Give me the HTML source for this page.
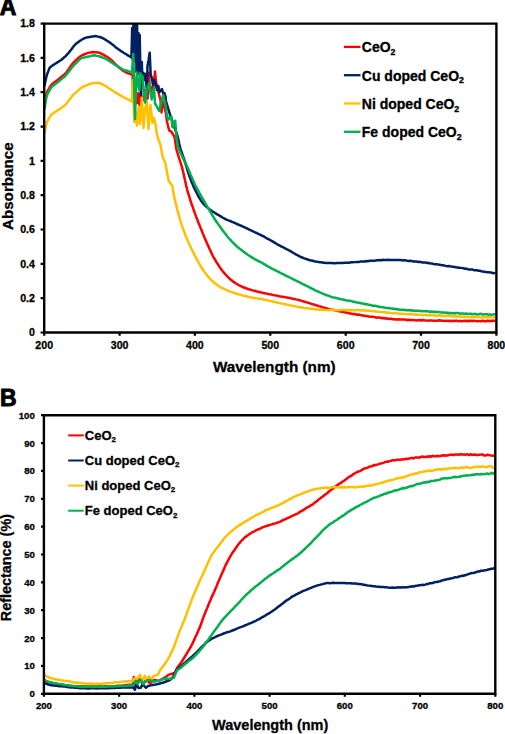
<!DOCTYPE html>
<html><head><meta charset="utf-8"><title>Absorbance and Reflectance spectra</title><style>
html,body{margin:0;padding:0;background:#fff;width:505px;height:734px;overflow:hidden}
svg{display:block;position:absolute;left:0;top:0}
text{font-family:"Liberation Sans",sans-serif;font-weight:bold;fill:#000;stroke:#000;stroke-width:0.3;paint-order:stroke}
.big{stroke-width:0.9}
.c path{fill:none;stroke-width:2.5;stroke-linejoin:round;stroke-linecap:butt}
.ax{fill:none;stroke:#000;stroke-width:2.4}
</style></head><body>
<svg width="505" height="734" viewBox="0 0 505 734">
<g class="c">
<path d="M44.40,104.82 L44.67,103.48 L44.94,101.94 L45.21,100.52 L45.49,99.09 L45.76,97.53 L46.03,96.05 L46.31,94.49 L46.64,93.08 L47.17,91.74 L47.89,90.47 L48.66,89.21 L49.43,87.84 L50.21,86.50 L51.03,85.30 L52.01,84.32 L53.16,83.24 L54.36,82.38 L55.56,81.58 L56.76,80.50 L57.95,79.70 L59.12,78.84 L60.29,77.75 L61.46,76.87 L62.63,76.00 L63.79,74.90 L64.92,74.00 L65.93,72.96 L66.83,71.75 L67.70,70.49 L68.57,69.21 L69.44,68.04 L70.31,66.80 L71.17,65.59 L72.05,64.35 L72.95,63.25 L73.95,62.13 L75.04,61.02 L76.16,60.08 L77.29,59.02 L78.41,58.06 L79.54,57.05 L80.69,56.17 L81.95,55.33 L83.31,54.73 L84.69,54.21 L86.08,53.58 L87.48,53.16 L88.92,52.63 L90.39,52.48 L91.88,52.19 L93.36,52.04 L94.84,52.13 L96.32,52.30 L97.80,52.52 L99.26,52.75 L100.65,53.28 L102.00,54.05 L103.34,54.68 L104.67,55.41 L105.96,56.22 L107.20,57.00 L108.43,57.74 L109.66,58.66 L110.85,59.62 L111.97,60.54 L113.04,61.73 L114.10,62.79 L115.16,63.83 L116.23,64.81 L117.31,65.92 L118.42,66.79 L119.54,67.83 L120.66,68.86 L121.79,69.90 L122.98,70.73 L124.27,71.40 L125.61,72.12 L126.96,72.78 L128.32,73.40 L129.73,73.88 L131.16,74.36 L132.60,74.79 L133.20,102.00 L134.20,96.00 L135.20,104.00 L136.30,94.00 L137.30,103.00 L138.30,93.00 L139.40,105.00 L140.40,94.00 L141.30,104.00 L142.50,97.00 L143.50,100.00 L144.50,90.00 L145.50,97.00 L146.60,92.00 L147.60,98.60 L148.90,72.50 L149.80,90.00 L151.00,87.00 L152.50,93.00 L154.00,82.00 L155.00,71.60 L156.00,82.00 L157.50,88.00 L159.00,94.50 L160.50,100.00 L161.50,112.50 L162.40,101.00 L163.70,104.40 L165.90,113.10 L167.00,121.80 L169.20,130.50 L171.30,131.60 L174.60,137.10 L176.30,149.00 L179.00,157.85 L179.47,159.29 L179.93,160.66 L180.40,162.08 L180.85,163.57 L181.30,165.02 L181.73,166.42 L182.14,167.89 L182.52,169.37 L182.87,170.64 L183.21,172.27 L183.54,173.62 L183.87,175.12 L184.19,176.65 L184.52,178.10 L184.84,179.46 L185.17,181.03 L185.50,182.37 L185.82,183.90 L186.15,185.45 L186.49,186.84 L186.85,188.33 L187.22,189.81 L187.62,191.27 L188.04,192.70 L188.47,193.99 L188.91,195.51 L189.36,196.95 L189.81,198.30 L190.26,199.83 L190.71,201.28 L191.18,202.75 L191.65,204.20 L192.13,205.45 L192.63,206.89 L193.12,208.40 L193.62,209.71 L194.12,211.14 L194.63,212.63 L195.14,213.96 L195.66,215.49 L196.20,216.91 L196.74,218.14 L197.29,219.64 L197.84,221.09 L198.40,222.52 L198.95,223.77 L199.51,225.15 L200.07,226.68 L200.63,228.08 L201.19,229.33 L201.76,230.77 L202.32,232.22 L202.89,233.64 L203.45,234.89 L204.02,236.38 L204.59,237.80 L205.18,239.13 L205.77,240.43 L206.37,241.78 L206.98,243.20 L207.60,244.68 L208.22,245.89 L208.84,247.25 L209.46,248.69 L210.08,250.00 L210.71,251.38 L211.34,252.72 L211.99,254.17 L212.66,255.55 L213.36,256.82 L214.09,258.06 L214.86,259.39 L215.64,260.73 L216.43,262.07 L217.23,263.35 L218.03,264.47 L218.84,265.69 L219.67,267.10 L220.53,268.35 L221.42,269.46 L222.34,270.71 L223.28,271.89 L224.24,273.00 L225.21,274.19 L226.20,275.15 L227.21,276.31 L228.26,277.37 L229.35,278.36 L230.48,279.50 L231.63,280.28 L232.81,281.33 L234.01,282.10 L235.24,283.01 L236.51,283.81 L237.80,284.51 L239.13,285.28 L240.46,285.96 L241.81,286.57 L243.18,287.27 L244.56,287.72 L245.97,288.24 L247.39,288.75 L248.82,289.19 L250.26,289.58 L251.70,290.14 L253.15,290.52 L254.60,290.78 L256.05,291.22 L257.50,291.57 L258.96,291.97 L260.42,292.28 L261.88,292.65 L263.35,293.05 L264.82,293.25 L266.29,293.60 L267.77,293.89 L269.24,294.22 L270.71,294.38 L272.18,294.81 L273.65,295.15 L275.13,295.37 L276.60,295.60 L278.07,295.96 L279.55,296.25 L281.03,296.50 L282.51,296.66 L283.99,297.07 L285.47,297.31 L286.95,297.46 L288.43,297.76 L289.90,297.93 L291.37,298.42 L292.84,298.71 L294.30,299.00 L295.76,299.37 L297.22,299.61 L298.68,300.00 L300.13,300.37 L301.57,300.85 L303.02,301.16 L304.45,301.76 L305.89,302.10 L307.33,302.53 L308.77,302.89 L310.20,303.46 L311.64,303.93 L313.08,304.32 L314.52,304.66 L315.95,305.23 L317.39,305.50 L318.83,306.11 L320.27,306.48 L321.70,306.84 L323.14,307.34 L324.58,307.80 L326.02,308.11 L327.46,308.70 L328.91,308.95 L330.37,309.45 L331.84,309.76 L333.30,309.83 L334.78,310.30 L336.25,310.48 L337.72,310.92 L339.19,311.15 L340.66,311.43 L342.13,311.90 L343.60,311.92 L345.07,312.42 L346.53,312.65 L348.01,312.84 L349.48,313.39 L350.96,313.59 L352.44,313.97 L353.92,314.10 L355.40,314.23 L356.88,314.73 L358.37,314.61 L359.85,314.82 L361.33,315.33 L362.82,315.41 L364.30,315.64 L365.79,316.09 L367.27,316.08 L368.75,316.56 L370.24,316.67 L371.73,316.74 L373.21,316.83 L374.70,317.11 L376.19,317.63 L377.68,317.53 L379.18,317.57 L380.67,317.79 L382.16,318.24 L383.66,318.03 L385.15,318.49 L386.65,318.31 L388.14,318.89 L389.63,318.81 L391.13,318.70 L392.62,319.31 L394.12,319.14 L395.62,319.46 L397.11,319.45 L398.61,319.31 L400.11,319.41 L401.61,319.52 L403.11,319.60 L404.61,319.61 L406.11,319.67 L407.61,320.25 L409.11,319.79 L410.61,320.09 L412.11,319.89 L413.62,319.99 L415.12,320.36 L416.62,320.50 L418.12,320.23 L419.62,319.96 L421.12,320.61 L422.62,320.03 L424.13,320.26 L425.63,320.38 L427.13,320.64 L428.63,320.61 L430.13,320.49 L431.63,320.38 L433.14,320.69 L434.64,320.75 L436.14,320.78 L437.64,320.72 L439.14,320.33 L440.64,320.51 L442.14,320.69 L443.64,320.75 L445.14,321.03 L446.65,320.65 L448.15,321.00 L449.65,320.83 L451.15,321.16 L452.65,320.75 L454.15,320.97 L455.65,320.70 L457.16,320.78 L458.66,321.33 L460.16,320.86 L461.66,321.31 L463.16,321.02 L464.66,320.64 L466.17,321.23 L467.67,320.64 L469.17,321.26 L470.67,320.60 L472.17,321.14 L473.67,320.72 L475.18,320.87 L476.68,321.38 L478.18,320.99 L479.68,321.13 L481.18,321.20 L482.69,320.67 L484.19,321.29 L485.69,321.36 L487.19,320.70 L488.69,321.04 L490.19,320.81 L491.70,321.21 L493.20,320.58 L494.70,321.01 L495.20,321.26" stroke="#FF0000"/>
<path d="M44.40,86.15 L44.71,84.55 L45.02,83.22 L45.33,81.63 L45.64,80.27 L45.95,78.74 L46.27,77.20 L46.61,75.85 L47.05,74.43 L47.58,73.00 L48.13,71.65 L48.68,70.11 L49.25,68.73 L49.99,67.46 L51.04,66.54 L52.26,65.66 L53.52,64.82 L54.78,64.03 L56.06,63.19 L57.34,62.34 L58.62,61.64 L59.89,60.80 L61.11,59.97 L62.28,59.12 L63.43,58.00 L64.57,57.10 L65.66,56.07 L66.68,54.90 L67.67,53.80 L68.66,52.77 L69.63,51.50 L70.58,50.40 L71.49,49.23 L72.39,47.93 L73.29,46.85 L74.22,45.59 L75.23,44.48 L76.37,43.56 L77.57,42.59 L78.78,41.75 L79.99,40.77 L81.23,40.06 L82.54,39.24 L83.87,38.49 L85.23,37.90 L86.64,37.52 L88.11,37.21 L89.59,36.90 L91.08,36.65 L92.57,36.44 L94.06,36.37 L95.55,36.09 L97.02,36.37 L98.48,36.70 L99.92,36.98 L101.33,37.52 L102.69,38.19 L104.04,38.91 L105.36,39.65 L106.63,40.47 L107.86,41.19 L109.10,42.03 L110.32,42.96 L111.53,43.87 L112.72,44.82 L113.90,45.64 L115.08,46.68 L116.26,47.67 L117.47,48.57 L118.69,49.45 L119.92,50.32 L121.15,51.19 L122.39,51.86 L123.65,52.85 L124.94,53.50 L126.22,54.29 L127.51,55.09 L128.81,55.97 L130.10,56.66 L131.40,57.37 L132.20,28.00 L132.80,60.00 L133.40,25.00 L134.10,50.00 L134.70,25.00 L135.30,62.00 L135.90,26.00 L136.50,72.00 L137.10,25.00 L137.70,74.00 L138.40,33.00 L139.10,74.00 L139.70,35.00 L140.40,72.00 L141.10,95.00 L141.80,62.00 L142.60,85.00 L143.50,73.00 L144.50,80.00 L145.50,74.00 L146.80,89.60 L147.50,66.00 L148.60,60.00 L149.70,52.70 L150.70,75.00 L151.70,77.40 L153.00,85.00 L154.30,80.00 L155.80,84.70 L157.00,90.00 L158.30,86.00 L159.50,92.00 L160.70,90.40 L162.00,89.00 L163.30,94.00 L164.50,93.00 L165.60,97.00 L165.90,101.10 L170.30,115.27 L170.79,116.80 L171.28,118.20 L171.77,119.48 L172.26,120.93 L172.75,122.37 L173.25,123.76 L173.74,125.24 L174.23,126.59 L174.73,128.08 L175.22,129.57 L175.72,130.97 L176.21,132.24 L176.69,133.68 L177.16,135.15 L177.59,136.63 L177.98,138.02 L178.34,139.45 L178.66,140.93 L178.98,142.37 L179.29,143.97 L179.61,145.40 L179.97,146.80 L180.36,148.31 L180.79,149.70 L181.25,151.13 L181.74,152.52 L182.24,153.96 L182.74,155.47 L183.24,156.85 L183.73,158.27 L184.21,159.55 L184.68,161.06 L185.13,162.46 L185.57,163.84 L186.01,165.34 L186.44,166.71 L186.87,168.18 L187.30,169.73 L187.74,171.14 L188.19,172.58 L188.65,173.88 L189.14,175.32 L189.64,176.70 L190.17,178.12 L190.71,179.53 L191.25,181.10 L191.81,182.48 L192.37,183.73 L192.96,185.12 L193.56,186.63 L194.19,187.92 L194.84,189.23 L195.51,190.59 L196.18,191.90 L196.86,193.30 L197.56,194.66 L198.27,195.93 L199.00,197.30 L199.76,198.46 L200.54,199.83 L201.35,201.16 L202.22,202.20 L203.15,203.43 L204.15,204.55 L205.21,205.55 L206.30,206.70 L207.41,207.60 L208.56,208.57 L209.73,209.58 L210.93,210.29 L212.17,211.30 L213.43,211.96 L214.71,212.79 L215.99,213.59 L217.28,214.36 L218.57,215.05 L219.86,215.87 L221.15,216.64 L222.45,217.51 L223.76,218.23 L225.08,218.86 L226.43,219.58 L227.80,220.18 L229.17,220.68 L230.56,221.21 L231.95,221.88 L233.33,222.40 L234.72,222.91 L236.10,223.69 L237.49,224.27 L238.87,224.77 L240.25,225.38 L241.62,225.99 L242.99,226.66 L244.35,227.21 L245.70,227.88 L247.05,228.47 L248.39,229.14 L249.74,229.86 L251.09,230.45 L252.45,231.05 L253.81,231.74 L255.18,232.44 L256.55,232.96 L257.92,233.70 L259.27,234.30 L260.62,234.95 L261.96,235.68 L263.28,236.22 L264.61,236.95 L265.92,237.82 L267.24,238.54 L268.55,239.11 L269.86,239.98 L271.16,240.58 L272.46,241.36 L273.75,242.12 L275.04,242.92 L276.33,243.70 L277.63,244.56 L278.94,245.20 L280.25,245.86 L281.58,246.59 L282.91,247.23 L284.25,247.91 L285.60,248.66 L286.93,249.36 L288.27,249.99 L289.59,250.73 L290.90,251.41 L292.19,252.27 L293.49,252.98 L294.78,253.70 L296.07,254.53 L297.37,255.21 L298.69,255.94 L300.03,256.56 L301.40,257.29 L302.79,257.74 L304.19,258.40 L305.61,258.78 L307.03,259.21 L308.46,259.77 L309.90,260.19 L311.35,260.59 L312.81,260.76 L314.28,261.22 L315.75,261.53 L317.23,261.67 L318.71,261.96 L320.19,262.22 L321.68,262.33 L323.17,262.66 L324.66,262.77 L326.15,262.95 L327.65,262.96 L329.14,263.08 L330.64,263.05 L332.14,263.12 L333.64,263.25 L335.14,263.31 L336.64,263.08 L338.15,263.03 L339.65,262.99 L341.14,263.04 L342.64,263.06 L344.14,262.82 L345.64,262.80 L347.14,262.72 L348.64,262.71 L350.14,262.41 L351.63,262.25 L353.13,262.29 L354.63,262.13 L356.12,262.00 L357.62,262.04 L359.12,261.90 L360.62,261.59 L362.11,261.62 L363.61,261.58 L365.10,261.49 L366.60,261.05 L368.09,261.18 L369.59,260.77 L371.08,260.85 L372.58,260.68 L374.07,260.68 L375.57,260.45 L377.07,260.15 L378.57,260.28 L380.06,260.05 L381.56,260.19 L383.06,259.84 L384.56,259.90 L386.06,260.00 L387.57,259.78 L389.07,259.96 L390.57,259.98 L392.07,260.01 L393.57,260.09 L395.07,259.94 L396.57,259.88 L398.07,259.99 L399.57,260.11 L401.07,260.06 L402.57,260.41 L404.06,260.25 L405.56,260.36 L407.06,260.86 L408.55,260.94 L410.04,260.86 L411.54,261.04 L413.03,261.40 L414.53,261.46 L416.02,261.46 L417.51,261.69 L419.01,262.03 L420.50,261.80 L421.99,262.41 L423.48,262.40 L424.97,262.42 L426.45,262.92 L427.94,262.82 L429.42,263.21 L430.90,263.52 L432.38,263.61 L433.87,264.15 L435.35,264.30 L436.83,264.27 L438.32,264.49 L439.80,264.66 L441.29,265.13 L442.77,265.15 L444.26,265.55 L445.75,265.90 L447.23,266.14 L448.72,265.98 L450.20,266.30 L451.69,266.56 L453.17,266.77 L454.66,267.01 L456.14,267.25 L457.63,267.63 L459.11,267.62 L460.60,267.87 L462.08,268.12 L463.56,268.22 L465.05,268.70 L466.53,268.80 L468.02,269.30 L469.50,269.48 L470.99,269.38 L472.47,269.61 L473.96,270.13 L475.44,270.23 L476.92,270.15 L478.41,270.72 L479.89,270.81 L481.38,271.27 L482.86,271.48 L484.34,271.82 L485.82,271.93 L487.30,272.31 L488.79,272.19 L490.27,272.47 L491.75,272.55 L493.23,273.28 L494.71,273.11 L495.20,273.43" stroke="#002060"/>
<path d="M44.40,133.20 L44.71,131.79 L45.02,130.23 L45.32,128.71 L45.63,127.28 L45.94,125.74 L46.25,124.32 L46.62,122.93 L47.17,121.44 L47.89,120.31 L48.65,118.92 L49.42,117.58 L50.20,116.40 L51.02,115.02 L52.03,113.99 L53.24,113.26 L54.52,112.32 L55.80,111.62 L57.07,110.69 L58.33,109.95 L59.56,109.12 L60.79,108.16 L62.03,107.32 L63.26,106.49 L64.47,105.61 L65.59,104.54 L66.57,103.47 L67.49,102.40 L68.41,101.06 L69.32,99.96 L70.24,98.65 L71.15,97.50 L72.07,96.32 L73.02,95.17 L74.05,94.11 L75.16,93.11 L76.29,92.09 L77.42,91.12 L78.54,90.13 L79.67,89.03 L80.84,88.19 L82.10,87.34 L83.45,86.63 L84.82,85.98 L86.19,85.48 L87.57,84.86 L88.99,84.24 L90.43,83.91 L91.87,83.38 L93.33,83.09 L94.81,82.95 L96.31,82.93 L97.81,82.85 L99.28,82.97 L100.69,83.51 L102.04,84.19 L103.39,84.86 L104.72,85.47 L106.01,86.28 L107.26,87.15 L108.49,88.05 L109.73,88.83 L110.97,89.75 L112.25,90.45 L113.53,91.21 L114.82,92.00 L116.11,92.87 L117.40,93.68 L118.69,94.37 L119.98,95.20 L121.27,95.86 L122.57,96.69 L123.90,97.38 L125.25,98.06 L126.59,98.68 L127.94,99.44 L129.29,100.12 L130.65,100.77 L132.00,101.45 L132.80,80.00 L133.50,100.00 L134.30,122.00 L135.50,112.00 L137.00,125.60 L138.60,106.80 L140.00,124.00 L141.90,97.80 L143.50,128.00 L145.00,110.00 L146.80,101.00 L148.50,128.90 L150.50,105.20 L152.50,123.00 L154.00,118.00 L155.80,125.60 L156.60,132.70 L158.30,139.20 L160.40,144.70 L162.60,156.70 L165.40,163.20 L167.00,171.90 L168.70,181.10 L172.40,186.00 L174.20,197.10 L176.60,206.89 L176.97,208.43 L177.34,209.82 L177.72,211.34 L178.09,212.70 L178.47,214.21 L178.87,215.56 L179.28,216.98 L179.70,218.59 L180.14,219.92 L180.58,221.28 L181.04,222.83 L181.50,224.32 L181.97,225.71 L182.46,227.18 L182.96,228.59 L183.46,229.90 L183.98,231.27 L184.50,232.64 L185.03,234.09 L185.58,235.56 L186.14,237.01 L186.72,238.21 L187.32,239.75 L187.92,241.11 L188.54,242.47 L189.15,243.73 L189.77,245.08 L190.40,246.58 L191.04,247.92 L191.69,249.22 L192.35,250.56 L193.02,251.84 L193.70,253.38 L194.37,254.69 L195.06,256.05 L195.75,257.35 L196.45,258.61 L197.16,260.01 L197.88,261.20 L198.60,262.61 L199.33,263.84 L200.07,265.17 L200.85,266.55 L201.65,267.73 L202.48,269.07 L203.33,270.25 L204.19,271.42 L205.06,272.63 L205.95,273.79 L206.85,275.10 L207.78,276.33 L208.75,277.34 L209.76,278.49 L210.82,279.65 L211.91,280.56 L213.01,281.68 L214.13,282.66 L215.26,283.57 L216.42,284.54 L217.63,285.31 L218.87,286.21 L220.16,287.01 L221.47,287.62 L222.80,288.27 L224.15,288.94 L225.50,289.62 L226.86,290.25 L228.24,290.94 L229.64,291.40 L231.06,291.91 L232.48,292.33 L233.92,292.78 L235.35,293.27 L236.79,293.75 L238.23,294.06 L239.67,294.53 L241.12,294.97 L242.57,295.42 L244.02,295.65 L245.48,296.04 L246.94,296.44 L248.40,296.71 L249.86,297.14 L251.33,297.52 L252.80,297.65 L254.28,297.94 L255.76,298.08 L257.25,298.38 L258.73,298.69 L260.21,298.85 L261.69,299.05 L263.17,299.35 L264.64,299.72 L266.11,300.07 L267.57,300.31 L269.04,300.64 L270.50,301.04 L271.97,301.23 L273.43,301.75 L274.89,302.00 L276.35,302.32 L277.81,302.76 L279.28,302.99 L280.74,303.29 L282.21,303.62 L283.68,304.01 L285.15,304.20 L286.62,304.57 L288.10,304.82 L289.57,305.18 L291.04,305.40 L292.51,305.82 L293.99,306.15 L295.46,306.32 L296.93,306.61 L298.41,306.94 L299.89,307.23 L301.37,307.33 L302.85,307.68 L304.34,307.93 L305.83,308.14 L307.31,308.27 L308.80,308.56 L310.29,308.69 L311.78,308.80 L313.27,309.00 L314.76,309.25 L316.25,309.41 L317.75,309.62 L319.24,309.73 L320.74,309.71 L322.24,309.83 L323.74,309.99 L325.24,309.96 L326.74,309.94 L328.24,310.16 L329.74,310.06 L331.24,310.03 L332.75,310.10 L334.25,310.04 L335.75,310.03 L337.25,310.15 L338.75,310.19 L340.26,310.07 L341.76,310.00 L343.26,310.09 L344.76,310.07 L346.26,310.08 L347.77,310.02 L349.27,310.20 L350.77,310.03 L352.27,309.99 L353.77,310.23 L355.27,310.26 L356.78,310.11 L358.28,310.10 L359.78,310.27 L361.28,310.42 L362.78,310.22 L364.28,310.39 L365.78,310.37 L367.28,310.66 L368.77,310.69 L370.27,310.80 L371.76,311.05 L373.25,311.16 L374.75,311.18 L376.24,311.41 L377.74,311.78 L379.23,311.87 L380.73,311.90 L382.22,312.12 L383.71,312.05 L385.21,312.32 L386.70,312.67 L388.20,312.52 L389.69,313.01 L391.19,313.10 L392.68,313.17 L394.18,313.16 L395.68,313.15 L397.17,313.35 L398.67,313.65 L400.17,313.60 L401.67,313.87 L403.17,313.70 L404.67,314.09 L406.16,314.22 L407.66,314.27 L409.16,314.13 L410.66,314.26 L412.15,314.29 L413.65,314.38 L415.15,314.80 L416.65,314.75 L418.15,314.95 L419.65,314.76 L421.15,314.84 L422.65,315.17 L424.16,315.28 L425.66,314.86 L427.16,315.26 L428.66,315.20 L430.16,314.95 L431.66,315.33 L433.16,315.20 L434.66,315.29 L436.16,315.69 L437.66,315.64 L439.16,315.32 L440.66,315.75 L442.16,315.45 L443.66,316.02 L445.16,315.93 L446.66,316.02 L448.16,315.74 L449.66,315.85 L451.17,316.18 L452.67,316.17 L454.17,316.50 L455.67,316.25 L457.17,316.38 L458.67,316.28 L460.17,316.58 L461.67,316.92 L463.17,316.56 L464.67,316.95 L466.17,316.62 L467.67,317.13 L469.17,316.94 L470.67,316.74 L472.17,317.20 L473.68,317.31 L475.18,316.86 L476.68,316.88 L478.18,317.00 L479.68,317.21 L481.18,317.53 L482.68,317.50 L484.19,317.16 L485.69,316.98 L487.19,317.36 L488.69,317.35 L490.19,317.12 L491.70,317.37 L493.20,317.63 L494.70,317.05 L495.20,317.17" stroke="#FFC000"/>
<path d="M44.40,109.67 L44.64,108.05 L44.88,106.56 L45.13,105.08 L45.37,103.72 L45.61,102.11 L45.85,100.62 L46.09,99.24 L46.34,97.79 L46.64,96.32 L47.12,94.85 L47.78,93.61 L48.50,92.14 L49.22,90.88 L49.94,89.54 L50.68,88.27 L51.53,87.00 L52.60,85.97 L53.78,85.22 L54.99,84.18 L56.19,83.32 L57.39,82.50 L58.57,81.45 L59.74,80.52 L60.91,79.62 L62.08,78.57 L63.25,77.62 L64.41,76.79 L65.50,75.71 L66.48,74.53 L67.41,73.39 L68.33,72.28 L69.25,71.10 L70.17,69.86 L71.08,68.61 L72.00,67.55 L72.94,66.25 L73.94,65.24 L74.99,64.04 L76.05,63.14 L77.11,62.04 L78.18,60.92 L79.24,59.85 L80.33,58.86 L81.54,58.10 L82.93,57.66 L84.40,57.42 L85.88,57.06 L87.36,56.86 L88.82,56.59 L90.27,56.12 L91.71,55.81 L93.16,55.40 L94.62,55.32 L96.09,55.66 L97.56,55.87 L99.02,56.23 L100.45,56.69 L101.85,57.27 L103.25,57.69 L104.64,58.40 L105.98,59.00 L107.29,59.70 L108.58,60.46 L109.87,61.37 L111.14,62.16 L112.38,62.92 L113.61,63.75 L114.84,64.74 L116.07,65.41 L117.33,66.24 L118.60,67.12 L119.89,67.92 L121.18,68.57 L122.50,69.31 L123.89,69.84 L125.32,70.32 L126.76,70.73 L128.20,71.15 L129.63,71.62 L131.05,72.15 L132.00,72.43 L133.30,54.00 L134.00,80.00 L135.00,119.00 L136.00,85.00 L137.00,72.50 L138.00,85.00 L139.50,90.40 L140.30,73.30 L141.50,78.00 L142.50,76.00 L143.50,88.00 L145.20,102.70 L146.50,92.00 L147.50,88.00 L149.30,83.10 L150.50,92.00 L151.70,99.40 L153.00,92.00 L154.00,88.00 L155.00,103.30 L157.00,107.00 L159.20,111.00 L161.50,101.10 L163.20,95.00 L165.90,106.50 L166.40,112.50 L168.10,119.60 L171.30,116.30 L172.40,127.20 L175.20,120.70 L176.30,136.00 L177.90,146.95 L178.50,148.25 L179.11,149.57 L179.71,151.05 L180.32,152.45 L180.93,153.74 L181.54,155.03 L182.17,156.52 L182.82,157.90 L183.48,159.27 L184.14,160.58 L184.82,161.90 L185.49,163.19 L186.15,164.52 L186.81,165.83 L187.44,167.34 L188.06,168.66 L188.65,169.98 L189.24,171.33 L189.81,172.75 L190.39,174.22 L190.98,175.50 L191.58,176.84 L192.18,178.28 L192.79,179.64 L193.40,181.09 L194.02,182.42 L194.64,183.77 L195.29,185.22 L195.96,186.54 L196.65,187.73 L197.36,189.07 L198.08,190.42 L198.81,191.66 L199.54,193.11 L200.28,194.42 L201.01,195.63 L201.75,197.06 L202.49,198.30 L203.23,199.54 L203.97,200.92 L204.72,202.24 L205.46,203.55 L206.21,204.90 L206.96,206.19 L207.71,207.39 L208.47,208.69 L209.22,209.90 L209.98,211.27 L210.74,212.52 L211.50,213.80 L212.27,215.23 L213.04,216.36 L213.82,217.66 L214.63,219.03 L215.46,220.26 L216.30,221.47 L217.16,222.78 L218.03,223.89 L218.90,225.10 L219.78,226.38 L220.66,227.52 L221.54,228.84 L222.44,230.10 L223.34,231.27 L224.25,232.48 L225.17,233.51 L226.09,234.76 L227.01,236.04 L227.95,237.20 L228.91,238.30 L229.89,239.44 L230.90,240.47 L231.93,241.55 L232.99,242.58 L234.05,243.81 L235.13,244.72 L236.22,245.89 L237.35,246.68 L238.49,247.80 L239.66,248.68 L240.85,249.50 L242.04,250.54 L243.24,251.44 L244.45,252.33 L245.66,253.21 L246.89,254.08 L248.12,254.95 L249.37,255.71 L250.62,256.66 L251.87,257.38 L253.14,258.13 L254.43,259.03 L255.74,259.60 L257.07,260.31 L258.42,261.03 L259.75,261.72 L261.07,262.32 L262.38,263.00 L263.68,263.86 L264.97,264.63 L266.25,265.43 L267.55,266.10 L268.84,266.96 L270.16,267.68 L271.48,268.40 L272.81,269.07 L274.15,269.73 L275.49,270.38 L276.83,271.11 L278.18,271.65 L279.52,272.40 L280.86,273.10 L282.20,273.77 L283.54,274.32 L284.88,275.03 L286.22,275.83 L287.56,276.47 L288.91,277.02 L290.25,277.76 L291.59,278.49 L292.94,279.17 L294.28,279.77 L295.62,280.35 L296.97,281.04 L298.31,281.67 L299.66,282.37 L301.00,283.02 L302.34,283.83 L303.68,284.50 L305.02,285.12 L306.36,285.90 L307.70,286.41 L309.04,287.09 L310.38,287.86 L311.73,288.50 L313.07,289.07 L314.42,289.93 L315.76,290.52 L317.11,291.17 L318.47,291.74 L319.84,292.43 L321.21,292.88 L322.60,293.52 L323.98,294.18 L325.38,294.73 L326.78,295.25 L328.18,295.62 L329.60,296.18 L331.03,296.84 L332.47,297.24 L333.92,297.60 L335.37,297.74 L336.82,298.11 L338.28,298.51 L339.74,299.05 L341.21,299.15 L342.68,299.46 L344.15,299.76 L345.62,300.22 L347.09,300.43 L348.57,300.84 L350.04,300.84 L351.51,301.12 L352.98,301.72 L354.45,301.73 L355.92,302.27 L357.39,302.52 L358.87,302.66 L360.34,302.98 L361.81,303.47 L363.28,303.47 L364.75,304.17 L366.22,304.07 L367.69,304.41 L369.16,304.92 L370.63,304.98 L372.11,305.67 L373.58,305.70 L375.05,305.80 L376.53,306.10 L378.01,306.53 L379.49,306.93 L380.97,306.87 L382.46,307.17 L383.94,307.48 L385.43,307.73 L386.91,307.97 L388.40,307.95 L389.89,308.16 L391.38,308.61 L392.87,308.81 L394.36,308.73 L395.85,309.22 L397.34,308.95 L398.83,309.49 L400.32,309.72 L401.81,309.69 L403.30,309.93 L404.80,309.71 L406.29,310.29 L407.79,310.31 L409.28,310.35 L410.78,310.45 L412.28,310.30 L413.78,310.81 L415.27,310.71 L416.77,310.86 L418.27,310.68 L419.77,311.07 L421.26,310.93 L422.76,311.36 L424.26,310.99 L425.75,311.16 L427.25,311.32 L428.75,311.54 L430.25,311.96 L431.74,311.48 L433.24,311.96 L434.74,311.70 L436.23,312.04 L437.73,312.08 L439.23,312.08 L440.73,312.39 L442.22,312.39 L443.72,312.43 L445.22,312.77 L446.72,312.60 L448.22,313.22 L449.71,312.78 L451.21,313.42 L452.71,312.89 L454.21,313.56 L455.71,312.97 L457.21,313.00 L458.70,313.14 L460.20,313.69 L461.70,313.40 L463.20,313.50 L464.70,313.89 L466.20,313.44 L467.70,313.90 L469.20,313.83 L470.70,313.68 L472.20,314.32 L473.70,313.90 L475.20,313.87 L476.70,314.24 L478.20,314.40 L479.70,313.90 L481.20,313.85 L482.70,314.59 L484.20,314.18 L485.70,314.31 L487.20,314.29 L488.70,314.67 L490.20,314.37 L491.70,314.71 L493.20,314.55 L494.70,314.21 L495.20,314.61" stroke="#00B050"/>
</g>
<path class="ax" d="M44.2,23.6 H496.4 V332.5 H44.2 Z"/>
<path d="M40.6,332.5 H44.2 M40.6,298.2 H44.2 M40.6,263.9 H44.2 M40.6,229.5 H44.2 M40.6,195.2 H44.2 M40.6,160.9 H44.2 M40.6,126.6 H44.2 M40.6,92.2 H44.2 M40.6,57.9 H44.2 M40.6,23.6 H44.2 M44.2,332.5 V335.8 M119.6,332.5 V335.8 M194.9,332.5 V335.8 M270.3,332.5 V335.8 M345.7,332.5 V335.8 M421.0,332.5 V335.8 M496.4,332.5 V335.8" stroke="#000" stroke-width="2.2" fill="none"/>
<text x="34.9" y="336.2" font-size="10.6" text-anchor="end">0</text>
<text x="34.9" y="301.9" font-size="10.6" text-anchor="end">0.2</text>
<text x="34.9" y="267.6" font-size="10.6" text-anchor="end">0.4</text>
<text x="34.9" y="233.2" font-size="10.6" text-anchor="end">0.6</text>
<text x="34.9" y="198.9" font-size="10.6" text-anchor="end">0.8</text>
<text x="34.9" y="164.6" font-size="10.6" text-anchor="end">1</text>
<text x="34.9" y="130.3" font-size="10.6" text-anchor="end">1.2</text>
<text x="34.9" y="95.9" font-size="10.6" text-anchor="end">1.4</text>
<text x="34.9" y="61.6" font-size="10.6" text-anchor="end">1.6</text>
<text x="34.9" y="27.3" font-size="10.6" text-anchor="end">1.8</text>
<text x="44.2" y="348.6" font-size="10.6" text-anchor="middle">200</text>
<text x="119.6" y="348.6" font-size="10.6" text-anchor="middle">300</text>
<text x="194.9" y="348.6" font-size="10.6" text-anchor="middle">400</text>
<text x="270.3" y="348.6" font-size="10.6" text-anchor="middle">500</text>
<text x="345.7" y="348.6" font-size="10.6" text-anchor="middle">600</text>
<text x="421.0" y="348.6" font-size="10.6" text-anchor="middle">700</text>
<text x="496.4" y="348.6" font-size="10.6" text-anchor="middle">800</text>
<text x="274.3" y="372.2" font-size="15.3" text-anchor="middle">Wavelength (nm)</text>
<text transform="translate(13.1,186.2) rotate(-90)" font-size="15.2" text-anchor="middle">Absorbance</text>
<text class="big" x="-0.2" y="15.1" font-size="23">A</text>
<line x1="343.9" y1="46.9" x2="360.5" y2="46.9" stroke="#FF0000" stroke-width="2.3"/>
<text x="361.8" y="52.3" font-size="14">CeO<tspan font-size="8.8" dy="2.6">2</tspan></text>
<line x1="343.9" y1="75.2" x2="360.5" y2="75.2" stroke="#002060" stroke-width="2.3"/>
<text x="361.8" y="80.6" font-size="14">Cu doped CeO<tspan font-size="8.8" dy="2.6">2</tspan></text>
<line x1="343.9" y1="103.5" x2="360.5" y2="103.5" stroke="#FFC000" stroke-width="2.3"/>
<text x="361.8" y="108.9" font-size="14">Ni doped CeO<tspan font-size="8.8" dy="2.6">2</tspan></text>
<line x1="343.9" y1="131.8" x2="360.5" y2="131.8" stroke="#00B050" stroke-width="2.3"/>
<text x="361.8" y="137.2" font-size="14">Fe doped CeO<tspan font-size="8.8" dy="2.6">2</tspan></text>
<g class="c">
<path d="M44.40,680.64 L45.74,681.17 L47.11,681.72 L48.50,682.10 L49.92,682.81 L51.37,683.05 L52.84,683.34 L54.32,683.64 L55.80,683.92 L57.29,684.13 L58.78,684.35 L60.27,684.64 L61.76,684.69 L63.26,684.96 L64.76,685.23 L66.25,685.58 L67.75,685.56 L69.25,685.75 L70.76,686.01 L72.26,686.08 L73.77,686.14 L75.27,686.17 L76.78,686.23 L78.29,686.13 L79.79,686.16 L81.30,686.19 L82.81,686.26 L84.32,686.52 L85.82,686.56 L87.33,686.37 L88.84,686.71 L90.35,686.57 L91.85,686.61 L93.36,686.43 L94.87,686.74 L96.38,686.43 L97.89,686.48 L99.40,686.58 L100.90,686.58 L102.41,686.58 L103.92,686.70 L105.43,686.29 L106.93,686.49 L108.44,686.33 L109.95,686.41 L111.45,686.28 L112.96,686.26 L114.47,686.21 L115.97,686.10 L117.48,685.76 L118.98,685.82 L120.49,685.81 L121.99,685.69 L123.49,685.61 L124.99,685.26 L126.50,684.95 L128.00,685.09 L129.50,684.76 L131.00,684.76 L132.50,684.37 L133.00,684.44 L133.90,676.90 L134.90,688.30 L137.00,682.00 L140.00,679.00 L143.00,684.00 L146.00,680.00 L150.00,683.00 L154.00,680.00 L157.70,680.80 L160.30,680.10 L165.80,676.90 L169.00,674.60 L174.60,673.00 L176.90,668.25 L177.84,666.88 L178.76,665.77 L179.66,664.51 L180.53,663.58 L181.37,662.30 L182.19,660.98 L182.99,659.67 L183.79,658.58 L184.59,657.02 L185.38,655.93 L186.17,654.40 L186.95,653.33 L187.73,651.88 L188.50,650.51 L189.26,649.58 L190.01,648.03 L190.73,647.00 L191.43,645.55 L192.11,644.21 L192.76,642.86 L193.40,641.63 L194.03,639.96 L194.66,638.90 L195.29,637.27 L195.92,635.82 L196.54,634.78 L197.17,633.09 L197.79,631.87 L198.41,630.65 L199.01,629.05 L199.59,627.85 L200.15,626.42 L200.68,625.04 L201.18,623.41 L201.67,622.21 L202.15,620.85 L202.65,619.15 L203.15,618.06 L203.68,616.66 L204.23,615.01 L204.79,613.87 L205.36,612.47 L205.93,610.76 L206.51,609.62 L207.08,608.32 L207.66,606.88 L208.24,605.22 L208.82,603.94 L209.40,602.62 L209.98,601.16 L210.57,599.78 L211.16,598.29 L211.76,596.88 L212.37,595.62 L212.98,594.30 L213.60,592.99 L214.22,591.78 L214.83,590.06 L215.43,588.79 L216.02,587.61 L216.60,586.21 L217.17,584.54 L217.74,583.38 L218.32,581.75 L218.90,580.71 L219.49,579.06 L220.09,577.82 L220.69,576.39 L221.31,575.04 L221.92,573.55 L222.54,572.24 L223.14,570.83 L223.73,569.59 L224.32,568.13 L224.91,566.82 L225.51,565.42 L226.15,564.12 L226.82,562.90 L227.51,561.40 L228.23,560.08 L228.96,558.80 L229.70,557.47 L230.45,556.11 L231.21,554.75 L231.99,553.59 L232.81,552.21 L233.64,551.13 L234.49,549.99 L235.35,548.72 L236.23,547.50 L237.12,546.06 L238.03,544.80 L238.96,543.69 L239.91,542.68 L240.88,541.35 L241.87,540.22 L242.90,539.50 L243.97,538.21 L245.09,537.12 L246.27,536.38 L247.48,535.57 L248.71,534.63 L249.96,533.67 L251.23,533.02 L252.51,532.06 L253.81,531.57 L255.12,530.95 L256.46,529.92 L257.82,529.51 L259.20,529.02 L260.58,528.37 L261.97,527.61 L263.37,527.02 L264.77,526.62 L266.17,525.93 L267.58,525.75 L269.01,525.15 L270.44,524.63 L271.88,524.40 L273.33,523.78 L274.77,523.51 L276.21,523.09 L277.62,522.46 L279.02,522.21 L280.39,521.58 L281.74,520.75 L283.09,520.18 L284.43,519.46 L285.78,519.05 L287.13,518.28 L288.48,517.74 L289.84,517.05 L291.22,516.45 L292.59,515.67 L293.96,515.28 L295.32,514.44 L296.66,513.97 L297.98,513.21 L299.28,512.39 L300.57,511.49 L301.86,510.89 L303.14,510.13 L304.43,509.37 L305.71,508.33 L307.00,507.63 L308.28,506.99 L309.56,506.34 L310.84,505.28 L312.11,504.78 L313.35,503.98 L314.58,502.71 L315.78,502.11 L316.97,501.04 L318.14,499.99 L319.32,499.09 L320.49,498.22 L321.67,497.12 L322.84,496.51 L324.01,495.46 L325.19,494.47 L326.36,493.80 L327.54,492.91 L328.71,491.72 L329.89,490.71 L331.08,489.95 L332.28,488.94 L333.48,488.30 L334.69,487.09 L335.91,486.12 L337.12,485.18 L338.35,484.39 L339.57,483.47 L340.79,483.07 L342.02,482.07 L343.25,481.15 L344.48,480.50 L345.71,479.45 L346.94,478.65 L348.18,477.47 L349.42,476.70 L350.66,476.05 L351.91,475.37 L353.18,474.23 L354.47,473.57 L355.78,472.73 L357.10,472.02 L358.43,471.52 L359.78,471.08 L361.14,470.48 L362.50,469.59 L363.88,468.64 L365.26,468.23 L366.66,467.93 L368.06,467.57 L369.47,466.53 L370.89,466.52 L372.32,466.10 L373.75,465.11 L375.19,465.26 L376.63,464.62 L378.07,464.37 L379.51,463.82 L380.95,463.40 L382.39,463.13 L383.84,462.64 L385.29,462.00 L386.75,461.62 L388.21,461.74 L389.68,460.90 L391.15,460.70 L392.63,460.26 L394.11,460.19 L395.60,460.18 L397.09,459.70 L398.58,459.71 L400.07,459.70 L401.56,459.35 L403.06,459.48 L404.55,459.10 L406.04,458.76 L407.53,458.91 L409.02,458.59 L410.51,458.31 L412.00,457.88 L413.49,458.40 L414.98,457.51 L416.47,457.51 L417.96,457.50 L419.45,457.63 L420.94,456.90 L422.43,456.57 L423.92,456.96 L425.42,457.07 L426.92,456.51 L428.42,456.92 L429.91,456.21 L431.41,456.65 L432.91,455.74 L434.41,456.31 L435.91,456.42 L437.41,455.76 L438.91,456.23 L440.41,455.91 L441.91,455.55 L443.41,455.18 L444.90,455.70 L446.40,455.31 L447.90,455.38 L449.40,454.92 L450.90,454.64 L452.39,454.61 L453.89,455.07 L455.39,454.43 L456.89,454.51 L458.39,454.73 L459.88,454.32 L461.38,454.48 L462.88,454.39 L464.38,454.78 L465.88,454.40 L467.39,454.29 L468.89,455.09 L470.39,454.23 L471.89,454.78 L473.39,454.79 L474.89,454.52 L476.39,454.99 L477.89,455.04 L479.39,454.77 L480.90,454.63 L482.40,454.44 L483.90,455.36 L485.40,455.55 L486.90,454.78 L488.40,454.88 L489.90,455.31 L491.40,455.52 L492.90,455.66 L494.40,455.62" stroke="#FF0000"/>
<path d="M44.40,683.05 L45.74,683.67 L47.11,684.05 L48.51,684.66 L49.94,685.08 L51.40,685.22 L52.88,685.40 L54.38,685.62 L55.87,685.82 L57.37,685.81 L58.87,686.18 L60.36,686.32 L61.86,686.32 L63.36,686.48 L64.86,686.61 L66.36,686.83 L67.85,687.15 L69.35,687.13 L70.85,687.44 L72.35,687.36 L73.85,687.53 L75.34,687.75 L76.84,687.78 L78.34,687.89 L79.84,688.16 L81.35,688.14 L82.85,688.31 L84.35,688.22 L85.86,688.28 L87.36,688.48 L88.87,688.41 L90.37,688.28 L91.88,688.37 L93.38,688.28 L94.89,688.27 L96.39,688.42 L97.90,688.28 L99.41,688.31 L100.91,688.26 L102.42,688.25 L103.92,688.31 L105.42,688.18 L106.93,688.17 L108.43,688.14 L109.94,687.99 L111.44,687.90 L112.94,687.83 L114.45,688.00 L115.95,687.75 L117.45,687.71 L118.96,687.73 L120.46,687.68 L121.97,687.59 L123.47,687.59 L124.97,687.43 L126.48,687.28 L127.98,687.38 L129.49,687.31 L130.99,687.41 L132.50,687.22 L133.00,687.35 L134.90,689.80 L136.50,684.00 L138.50,688.00 L140.90,687.80 L142.50,684.00 L145.80,687.80 L148.00,686.00 L152.80,684.80 L154.00,684.90 L158.00,684.00 L163.50,682.50 L169.80,680.10 L173.00,677.00 L176.90,669.65 L178.04,668.79 L179.18,667.80 L180.31,666.74 L181.45,665.97 L182.58,664.99 L183.70,663.82 L184.82,662.96 L185.94,662.01 L187.06,660.91 L188.18,659.85 L189.31,658.95 L190.44,657.88 L191.56,656.94 L192.68,655.97 L193.79,654.85 L194.89,653.93 L195.97,652.85 L197.04,651.82 L198.11,650.67 L199.16,649.74 L200.21,648.49 L201.25,647.50 L202.28,646.43 L203.32,645.19 L204.38,644.37 L205.47,643.28 L206.60,642.16 L207.77,641.46 L208.98,640.54 L210.22,639.77 L211.50,638.92 L212.81,638.15 L214.14,637.56 L215.51,636.81 L216.88,636.25 L218.27,635.65 L219.66,635.08 L221.05,634.70 L222.45,634.03 L223.86,633.50 L225.27,632.95 L226.68,632.44 L228.11,631.93 L229.52,631.66 L230.94,631.09 L232.34,630.49 L233.74,629.98 L235.13,629.49 L236.52,628.79 L237.91,628.19 L239.30,627.68 L240.69,627.10 L242.08,626.64 L243.47,626.10 L244.86,625.53 L246.26,624.92 L247.65,624.32 L249.05,623.65 L250.43,623.31 L251.81,622.69 L253.18,621.98 L254.53,621.40 L255.88,620.79 L257.22,619.94 L258.56,619.33 L259.89,618.75 L261.20,617.80 L262.50,617.03 L263.79,616.51 L265.08,615.72 L266.37,614.69 L267.65,614.07 L268.93,613.32 L270.21,612.56 L271.49,611.73 L272.74,610.90 L273.98,610.06 L275.20,609.19 L276.40,608.14 L277.60,607.26 L278.79,606.37 L279.97,605.64 L281.15,604.57 L282.33,603.69 L283.52,602.88 L284.72,601.73 L285.94,600.87 L287.16,600.03 L288.40,599.38 L289.65,598.48 L290.91,597.49 L292.18,596.67 L293.46,595.92 L294.75,595.38 L296.05,594.49 L297.37,593.91 L298.70,593.21 L300.05,592.58 L301.40,591.81 L302.77,591.11 L304.14,590.58 L305.53,590.12 L306.92,589.57 L308.31,588.84 L309.71,588.31 L311.10,587.86 L312.50,587.19 L313.91,586.61 L315.32,586.12 L316.74,585.70 L318.17,585.15 L319.60,584.88 L321.04,584.43 L322.48,584.14 L323.94,583.74 L325.41,583.38 L326.89,583.10 L328.37,583.00 L329.87,583.15 L331.37,583.01 L332.87,582.78 L334.37,582.90 L335.87,582.98 L337.37,582.99 L338.87,583.02 L340.37,583.08 L341.87,582.96 L343.37,583.09 L344.87,582.91 L346.37,583.20 L347.87,583.20 L349.37,583.14 L350.87,583.22 L352.37,583.48 L353.87,583.38 L355.36,583.56 L356.85,583.73 L358.34,584.09 L359.82,584.07 L361.31,584.25 L362.79,584.53 L364.27,585.00 L365.75,584.95 L367.24,585.41 L368.72,585.62 L370.20,585.79 L371.69,586.00 L373.18,586.28 L374.67,586.23 L376.16,586.50 L377.65,586.68 L379.15,586.68 L380.65,586.97 L382.14,586.99 L383.64,586.99 L385.14,587.14 L386.63,587.34 L388.13,587.60 L389.63,587.75 L391.13,587.65 L392.63,587.45 L394.13,587.71 L395.63,587.82 L397.13,587.34 L398.63,587.43 L400.13,587.21 L401.63,587.43 L403.13,587.13 L404.63,587.49 L406.12,587.14 L407.62,587.15 L409.11,586.86 L410.60,586.70 L412.09,586.32 L413.57,586.56 L415.06,586.00 L416.54,585.75 L418.02,585.57 L419.50,585.23 L420.98,585.06 L422.46,584.80 L423.94,584.93 L425.42,584.61 L426.89,583.99 L428.36,584.00 L429.83,583.23 L431.29,583.20 L432.76,583.02 L434.22,582.31 L435.68,581.93 L437.14,581.95 L438.60,581.53 L440.06,581.37 L441.52,580.55 L442.99,580.19 L444.45,579.79 L445.91,579.60 L447.37,579.09 L448.83,579.08 L450.29,578.41 L451.75,578.28 L453.21,577.97 L454.67,577.35 L456.13,577.37 L457.59,577.21 L459.05,576.48 L460.51,576.20 L461.96,575.75 L463.42,575.77 L464.87,575.31 L466.33,575.01 L467.78,574.26 L469.23,573.83 L470.68,573.25 L472.13,572.91 L473.59,573.10 L475.04,572.47 L476.49,572.00 L477.95,571.44 L479.40,571.60 L480.86,570.66 L482.33,570.75 L483.80,570.41 L485.27,570.20 L486.74,569.92 L488.22,569.58 L489.69,569.21 L491.16,568.83 L492.64,568.80 L494.11,568.04 L494.60,568.05" stroke="#002060"/>
<path d="M44.40,674.81 L45.62,675.71 L46.86,676.42 L48.15,676.88 L49.50,677.79 L50.89,678.34 L52.32,678.55 L53.78,678.89 L55.24,679.20 L56.71,679.60 L58.19,679.69 L59.68,679.92 L61.16,680.50 L62.65,680.53 L64.14,680.76 L65.62,680.90 L67.11,681.02 L68.60,681.25 L70.09,681.47 L71.58,681.94 L73.07,682.18 L74.56,682.45 L76.05,682.66 L77.54,682.52 L79.03,682.66 L80.52,683.10 L82.02,683.12 L83.51,683.52 L85.01,683.49 L86.51,683.58 L88.01,683.65 L89.51,683.64 L91.01,683.76 L92.52,683.60 L94.02,683.91 L95.52,683.82 L97.03,683.82 L98.53,683.83 L100.04,683.70 L101.54,683.74 L103.04,683.61 L104.54,683.42 L106.04,683.13 L107.54,683.20 L109.04,683.07 L110.53,683.01 L112.03,682.92 L113.53,682.68 L115.03,682.31 L116.52,682.17 L118.02,682.34 L119.52,682.21 L121.02,681.88 L122.52,681.61 L124.01,681.49 L125.51,681.36 L127.01,681.54 L128.51,681.20 L130.01,681.08 L131.50,681.08 L133.00,680.70 L134.90,677.90 L137.00,679.00 L139.90,674.90 L142.00,681.00 L144.80,675.90 L146.50,681.00 L148.80,676.40 L151.00,679.00 L153.70,675.90 L157.90,674.60 L160.30,669.81 L161.25,668.67 L162.20,667.45 L163.13,666.16 L164.04,665.09 L164.92,663.75 L165.76,662.59 L166.57,661.37 L167.34,660.00 L168.08,659.02 L168.79,657.58 L169.48,656.34 L170.16,655.01 L170.83,653.41 L171.49,652.00 L172.14,650.99 L172.78,649.44 L173.39,648.14 L173.98,646.84 L174.54,645.24 L175.08,643.94 L175.60,642.42 L176.11,640.98 L176.61,639.49 L177.12,638.16 L177.62,636.75 L178.13,635.54 L178.64,634.04 L179.16,632.73 L179.68,631.13 L180.21,629.70 L180.75,628.45 L181.31,626.94 L181.90,625.75 L182.52,624.24 L183.14,622.84 L183.75,621.66 L184.33,620.05 L184.88,618.88 L185.39,617.33 L185.88,615.80 L186.37,614.60 L186.86,613.17 L187.35,611.55 L187.86,610.29 L188.37,608.88 L188.89,607.57 L189.41,605.95 L189.92,604.69 L190.44,603.46 L190.96,601.66 L191.48,600.53 L192.00,598.98 L192.53,597.63 L193.08,596.15 L193.65,594.84 L194.23,593.47 L194.82,592.26 L195.42,590.87 L196.02,589.51 L196.62,588.15 L197.22,586.55 L197.83,585.33 L198.43,584.01 L199.05,582.33 L199.66,581.20 L200.29,579.78 L200.92,578.27 L201.54,577.08 L202.17,575.74 L202.80,574.36 L203.43,572.74 L204.06,571.75 L204.68,570.15 L205.30,568.97 L205.92,567.34 L206.53,566.15 L207.15,564.57 L207.76,563.40 L208.37,562.06 L208.99,560.59 L209.61,559.36 L210.25,557.91 L210.92,556.41 L211.64,555.10 L212.42,553.83 L213.25,552.71 L214.12,551.72 L215.02,550.28 L215.93,549.28 L216.85,548.03 L217.77,546.87 L218.70,545.68 L219.62,544.31 L220.54,543.40 L221.46,542.03 L222.37,541.04 L223.29,539.49 L224.22,538.36 L225.18,537.22 L226.17,536.35 L227.21,535.03 L228.29,534.12 L229.40,533.15 L230.52,532.15 L231.66,531.09 L232.81,530.36 L233.96,529.23 L235.13,528.18 L236.32,527.42 L237.53,526.36 L238.76,525.74 L240.02,524.73 L241.29,524.23 L242.58,523.14 L243.87,522.46 L245.15,521.65 L246.43,521.01 L247.72,520.17 L249.00,519.41 L250.28,518.63 L251.56,517.92 L252.85,517.01 L254.14,516.28 L255.45,515.52 L256.77,514.76 L258.10,514.27 L259.44,513.72 L260.79,513.04 L262.13,512.40 L263.47,511.39 L264.82,510.97 L266.17,510.06 L267.53,509.73 L268.90,509.14 L270.28,508.41 L271.67,508.05 L273.07,507.30 L274.47,506.79 L275.86,506.16 L277.25,505.79 L278.63,505.10 L279.99,504.46 L281.34,503.78 L282.68,503.23 L284.00,502.26 L285.31,501.76 L286.62,500.79 L287.92,500.10 L289.22,499.29 L290.53,498.76 L291.86,498.23 L293.19,497.25 L294.54,496.56 L295.90,496.10 L297.28,495.31 L298.66,494.87 L300.05,494.35 L301.45,493.65 L302.84,493.42 L304.24,492.67 L305.64,492.21 L307.04,491.49 L308.45,491.36 L309.88,490.55 L311.31,490.23 L312.75,489.66 L314.20,489.32 L315.66,488.97 L317.13,488.79 L318.61,488.38 L320.09,488.33 L321.57,488.18 L323.06,487.83 L324.55,487.98 L326.05,487.51 L327.54,487.67 L329.04,487.71 L330.54,487.55 L332.04,487.18 L333.54,487.19 L335.04,487.16 L336.54,487.18 L338.04,487.38 L339.54,487.60 L341.03,487.24 L342.53,487.45 L344.03,487.12 L345.53,487.51 L347.03,487.15 L348.53,487.02 L350.03,487.02 L351.53,486.96 L353.03,486.94 L354.53,487.45 L356.03,487.29 L357.53,486.86 L359.02,487.05 L360.51,486.82 L362.00,486.39 L363.48,486.79 L364.97,486.09 L366.45,486.09 L367.93,485.72 L369.41,485.57 L370.89,485.66 L372.37,485.24 L373.84,484.59 L375.31,484.62 L376.77,484.12 L378.22,483.60 L379.67,483.45 L381.12,482.80 L382.55,482.81 L383.99,482.00 L385.43,481.42 L386.86,481.56 L388.30,480.60 L389.74,480.59 L391.18,480.30 L392.62,479.79 L394.08,479.60 L395.54,478.72 L397.00,478.48 L398.46,478.37 L399.93,477.62 L401.38,477.98 L402.84,477.35 L404.29,476.98 L405.73,476.50 L407.18,476.03 L408.62,475.36 L410.06,474.87 L411.50,474.59 L412.95,473.98 L414.39,474.08 L415.83,473.29 L417.28,473.53 L418.72,472.41 L420.17,472.20 L421.62,472.31 L423.07,471.76 L424.54,471.28 L426.02,471.32 L427.50,470.80 L428.98,470.38 L430.47,470.97 L431.96,470.70 L433.45,470.40 L434.94,469.79 L436.43,469.83 L437.92,469.25 L439.41,469.03 L440.90,469.75 L442.39,469.08 L443.89,468.74 L445.38,469.18 L446.88,468.79 L448.37,468.80 L449.87,468.12 L451.36,468.35 L452.86,468.19 L454.35,467.95 L455.85,467.71 L457.34,468.32 L458.84,468.08 L460.34,467.80 L461.83,467.41 L463.33,467.73 L464.83,467.44 L466.33,466.96 L467.83,467.60 L469.33,467.61 L470.83,467.91 L472.33,467.73 L473.83,466.86 L475.33,467.09 L476.83,466.74 L478.32,466.71 L479.82,467.07 L481.31,466.67 L482.81,466.37 L484.29,466.88 L485.78,467.10 L487.25,466.93 L488.72,466.07 L490.16,466.54 L491.58,466.55 L493.00,467.42 L494.40,468.52" stroke="#FFC000"/>
<path d="M44.40,679.78 L45.74,680.65 L47.09,681.17 L48.47,681.71 L49.88,682.29 L51.32,682.46 L52.78,682.79 L54.25,683.25 L55.73,683.28 L57.21,683.52 L58.69,683.88 L60.17,684.11 L61.65,684.29 L63.14,684.49 L64.62,684.96 L66.11,684.98 L67.60,685.15 L69.08,685.54 L70.57,685.75 L72.06,685.87 L73.55,686.14 L75.04,685.96 L76.54,686.23 L78.03,686.50 L79.53,686.68 L81.03,686.45 L82.52,686.74 L84.02,686.58 L85.52,686.69 L87.02,686.86 L88.52,686.89 L90.03,686.61 L91.53,686.70 L93.03,686.98 L94.53,686.83 L96.03,686.83 L97.53,686.70 L99.03,686.78 L100.53,686.70 L102.03,686.62 L103.53,686.65 L105.03,686.72 L106.53,686.65 L108.03,686.58 L109.53,686.44 L111.03,686.41 L112.53,686.51 L114.02,686.46 L115.52,686.38 L117.02,686.04 L118.52,686.14 L120.02,686.13 L121.52,685.91 L123.02,685.92 L124.52,686.02 L126.02,685.90 L127.52,685.83 L129.01,685.47 L130.51,685.35 L132.00,685.47 L133.00,685.33 L135.90,680.80 L137.50,684.00 L140.90,679.90 L143.00,684.00 L147.80,679.90 L150.00,680.10 L154.00,681.70 L157.90,680.90 L162.00,679.50 L165.80,678.50 L169.00,679.00 L173.80,677.70 L176.90,670.47 L178.10,669.50 L179.30,668.69 L180.49,667.94 L181.67,666.91 L182.84,666.09 L183.99,664.93 L185.14,664.16 L186.28,662.98 L187.43,662.33 L188.60,661.15 L189.79,660.14 L190.98,659.56 L192.16,658.45 L193.31,657.53 L194.40,656.42 L195.46,655.39 L196.49,654.38 L197.49,653.23 L198.48,652.19 L199.46,650.96 L200.43,649.88 L201.38,648.56 L202.32,647.58 L203.25,646.44 L204.16,645.37 L205.07,644.11 L205.97,642.65 L206.85,641.55 L207.73,640.50 L208.61,639.26 L209.49,637.78 L210.36,636.55 L211.24,635.52 L212.11,634.28 L212.99,632.94 L213.86,631.77 L214.73,630.58 L215.59,629.53 L216.46,628.10 L217.33,627.09 L218.21,625.89 L219.09,624.44 L219.97,623.47 L220.87,621.96 L221.79,620.90 L222.73,619.62 L223.69,618.55 L224.67,617.40 L225.67,616.48 L226.69,615.41 L227.73,614.13 L228.78,613.06 L229.84,612.25 L230.89,610.86 L231.95,609.92 L232.99,608.89 L234.03,607.84 L235.06,606.55 L236.08,605.51 L237.10,604.35 L238.12,603.49 L239.15,602.38 L240.17,601.32 L241.20,600.07 L242.23,598.82 L243.26,598.08 L244.30,596.69 L245.36,595.67 L246.42,594.53 L247.49,593.63 L248.58,592.71 L249.68,591.79 L250.79,590.63 L251.92,589.47 L253.07,588.82 L254.23,587.56 L255.40,586.66 L256.57,585.73 L257.75,585.06 L258.92,583.93 L260.09,583.17 L261.25,582.11 L262.42,581.14 L263.59,580.33 L264.76,579.16 L265.94,578.25 L267.12,577.58 L268.31,576.55 L269.52,575.58 L270.75,574.82 L271.99,574.03 L273.25,573.21 L274.52,572.33 L275.79,571.58 L277.05,570.62 L278.29,569.87 L279.50,569.16 L280.70,568.27 L281.88,566.99 L283.05,566.15 L284.22,565.22 L285.40,564.31 L286.58,563.37 L287.76,562.44 L288.94,561.60 L290.14,560.60 L291.34,559.90 L292.55,558.74 L293.77,558.23 L294.98,557.04 L296.18,556.43 L297.38,555.43 L298.56,554.59 L299.73,553.47 L300.88,552.47 L302.02,551.61 L303.13,550.44 L304.23,549.51 L305.32,548.53 L306.39,547.30 L307.46,546.54 L308.52,545.33 L309.58,544.30 L310.64,543.30 L311.69,542.33 L312.74,540.92 L313.79,539.87 L314.83,538.76 L315.87,538.06 L316.90,536.73 L317.93,535.77 L318.95,534.41 L319.97,533.68 L321.00,532.20 L322.02,531.37 L323.05,529.96 L324.10,529.31 L325.19,528.05 L326.30,527.18 L327.46,526.22 L328.65,525.11 L329.87,524.37 L331.10,523.28 L332.35,522.87 L333.62,521.89 L334.88,520.99 L336.15,520.24 L337.40,519.43 L338.64,518.44 L339.87,517.70 L341.08,517.00 L342.29,516.05 L343.51,515.42 L344.73,514.42 L345.97,513.62 L347.23,512.40 L348.49,511.82 L349.77,510.87 L351.06,510.09 L352.34,509.37 L353.63,508.75 L354.92,507.89 L356.21,507.11 L357.50,506.32 L358.79,505.96 L360.09,504.85 L361.39,504.43 L362.71,503.77 L364.04,502.82 L365.37,502.38 L366.71,501.72 L368.06,500.94 L369.42,500.24 L370.78,499.29 L372.16,498.67 L373.55,498.00 L374.93,497.55 L376.33,497.21 L377.72,496.59 L379.12,496.27 L380.51,495.39 L381.91,495.09 L383.32,494.37 L384.73,493.76 L386.14,493.68 L387.57,492.85 L389.00,492.57 L390.43,491.91 L391.86,491.78 L393.30,490.98 L394.73,490.45 L396.17,490.46 L397.61,489.92 L399.04,489.62 L400.48,488.73 L401.92,488.88 L403.36,487.87 L404.81,488.22 L406.25,487.80 L407.70,487.29 L409.15,486.48 L410.59,486.36 L412.04,486.26 L413.48,485.63 L414.93,485.18 L416.38,484.23 L417.82,483.84 L419.27,483.97 L420.72,483.43 L422.17,483.08 L423.63,482.45 L425.09,482.22 L426.55,482.44 L428.02,481.65 L429.49,481.92 L430.96,480.88 L432.44,480.93 L433.91,480.74 L435.38,480.50 L436.85,480.33 L438.32,479.99 L439.80,479.77 L441.27,478.76 L442.75,478.51 L444.23,478.31 L445.71,478.13 L447.19,478.41 L448.67,478.00 L450.15,477.95 L451.63,477.61 L453.12,477.34 L454.60,476.72 L456.08,477.20 L457.57,476.89 L459.05,476.65 L460.54,476.64 L462.02,475.88 L463.51,475.74 L465.00,475.63 L466.50,475.35 L467.99,475.38 L469.48,475.36 L470.98,475.18 L472.47,474.58 L473.96,475.05 L475.46,474.18 L476.95,474.19 L478.44,474.26 L479.94,474.62 L481.43,473.85 L482.93,474.39 L484.42,474.00 L485.92,474.03 L487.42,473.45 L488.91,474.14 L490.41,473.66 L491.91,472.88 L493.40,473.64 L494.40,473.16" stroke="#00B050"/>
</g>
<path class="ax" d="M43.9,415.2 H495.3 V693.8 H43.9 Z"/>
<path d="M41,693.8 H43.9 M41,665.9 H43.9 M41,638.1 H43.9 M41,610.2 H43.9 M41,582.4 H43.9 M41,554.5 H43.9 M41,526.6 H43.9 M41,498.8 H43.9 M41,470.9 H43.9 M41,443.1 H43.9 M41,415.2 H43.9 M43.9,693.8 V696.8 M119.1,693.8 V696.8 M194.4,693.8 V696.8 M269.6,693.8 V696.8 M344.8,693.8 V696.8 M420.1,693.8 V696.8 M495.3,693.8 V696.8" stroke="#000" stroke-width="2.2" fill="none"/>
<text x="34.8" y="697.3" font-size="9.6" text-anchor="end">0</text>
<text x="34.8" y="669.4" font-size="9.6" text-anchor="end">10</text>
<text x="34.8" y="641.6" font-size="9.6" text-anchor="end">20</text>
<text x="34.8" y="613.7" font-size="9.6" text-anchor="end">30</text>
<text x="34.8" y="585.9" font-size="9.6" text-anchor="end">40</text>
<text x="34.8" y="558.0" font-size="9.6" text-anchor="end">50</text>
<text x="34.8" y="530.1" font-size="9.6" text-anchor="end">60</text>
<text x="34.8" y="502.3" font-size="9.6" text-anchor="end">70</text>
<text x="34.8" y="474.4" font-size="9.6" text-anchor="end">80</text>
<text x="34.8" y="446.6" font-size="9.6" text-anchor="end">90</text>
<text x="34.8" y="418.7" font-size="9.6" text-anchor="end">100</text>
<text x="43.9" y="708.7" font-size="9.6" text-anchor="middle">200</text>
<text x="119.1" y="708.7" font-size="9.6" text-anchor="middle">300</text>
<text x="194.4" y="708.7" font-size="9.6" text-anchor="middle">400</text>
<text x="269.6" y="708.7" font-size="9.6" text-anchor="middle">500</text>
<text x="344.8" y="708.7" font-size="9.6" text-anchor="middle">600</text>
<text x="420.1" y="708.7" font-size="9.6" text-anchor="middle">700</text>
<text x="495.3" y="708.7" font-size="9.6" text-anchor="middle">800</text>
<text x="270.2" y="730.2" font-size="14.5" text-anchor="middle">Wavelength (nm)</text>
<text transform="translate(10.9,567.6) rotate(-90)" font-size="14.4" text-anchor="middle">Reflectance (%)</text>
<text class="big" x="0" y="405.9" font-size="23">B</text>
<line x1="68.2" y1="435.4" x2="83.7" y2="435.4" stroke="#FF0000" stroke-width="2"/>
<text x="84.8" y="439.9" font-size="13">CeO<tspan font-size="8" dy="2.3">2</tspan></text>
<line x1="68.2" y1="460.5" x2="83.7" y2="460.5" stroke="#002060" stroke-width="2"/>
<text x="84.8" y="465.0" font-size="13">Cu doped CeO<tspan font-size="8" dy="2.3">2</tspan></text>
<line x1="68.2" y1="485.6" x2="83.7" y2="485.6" stroke="#FFC000" stroke-width="2"/>
<text x="84.8" y="490.1" font-size="13">Ni doped CeO<tspan font-size="8" dy="2.3">2</tspan></text>
<line x1="68.2" y1="510.7" x2="83.7" y2="510.7" stroke="#00B050" stroke-width="2"/>
<text x="84.8" y="515.2" font-size="13">Fe doped CeO<tspan font-size="8" dy="2.3">2</tspan></text>
</svg></body></html>
